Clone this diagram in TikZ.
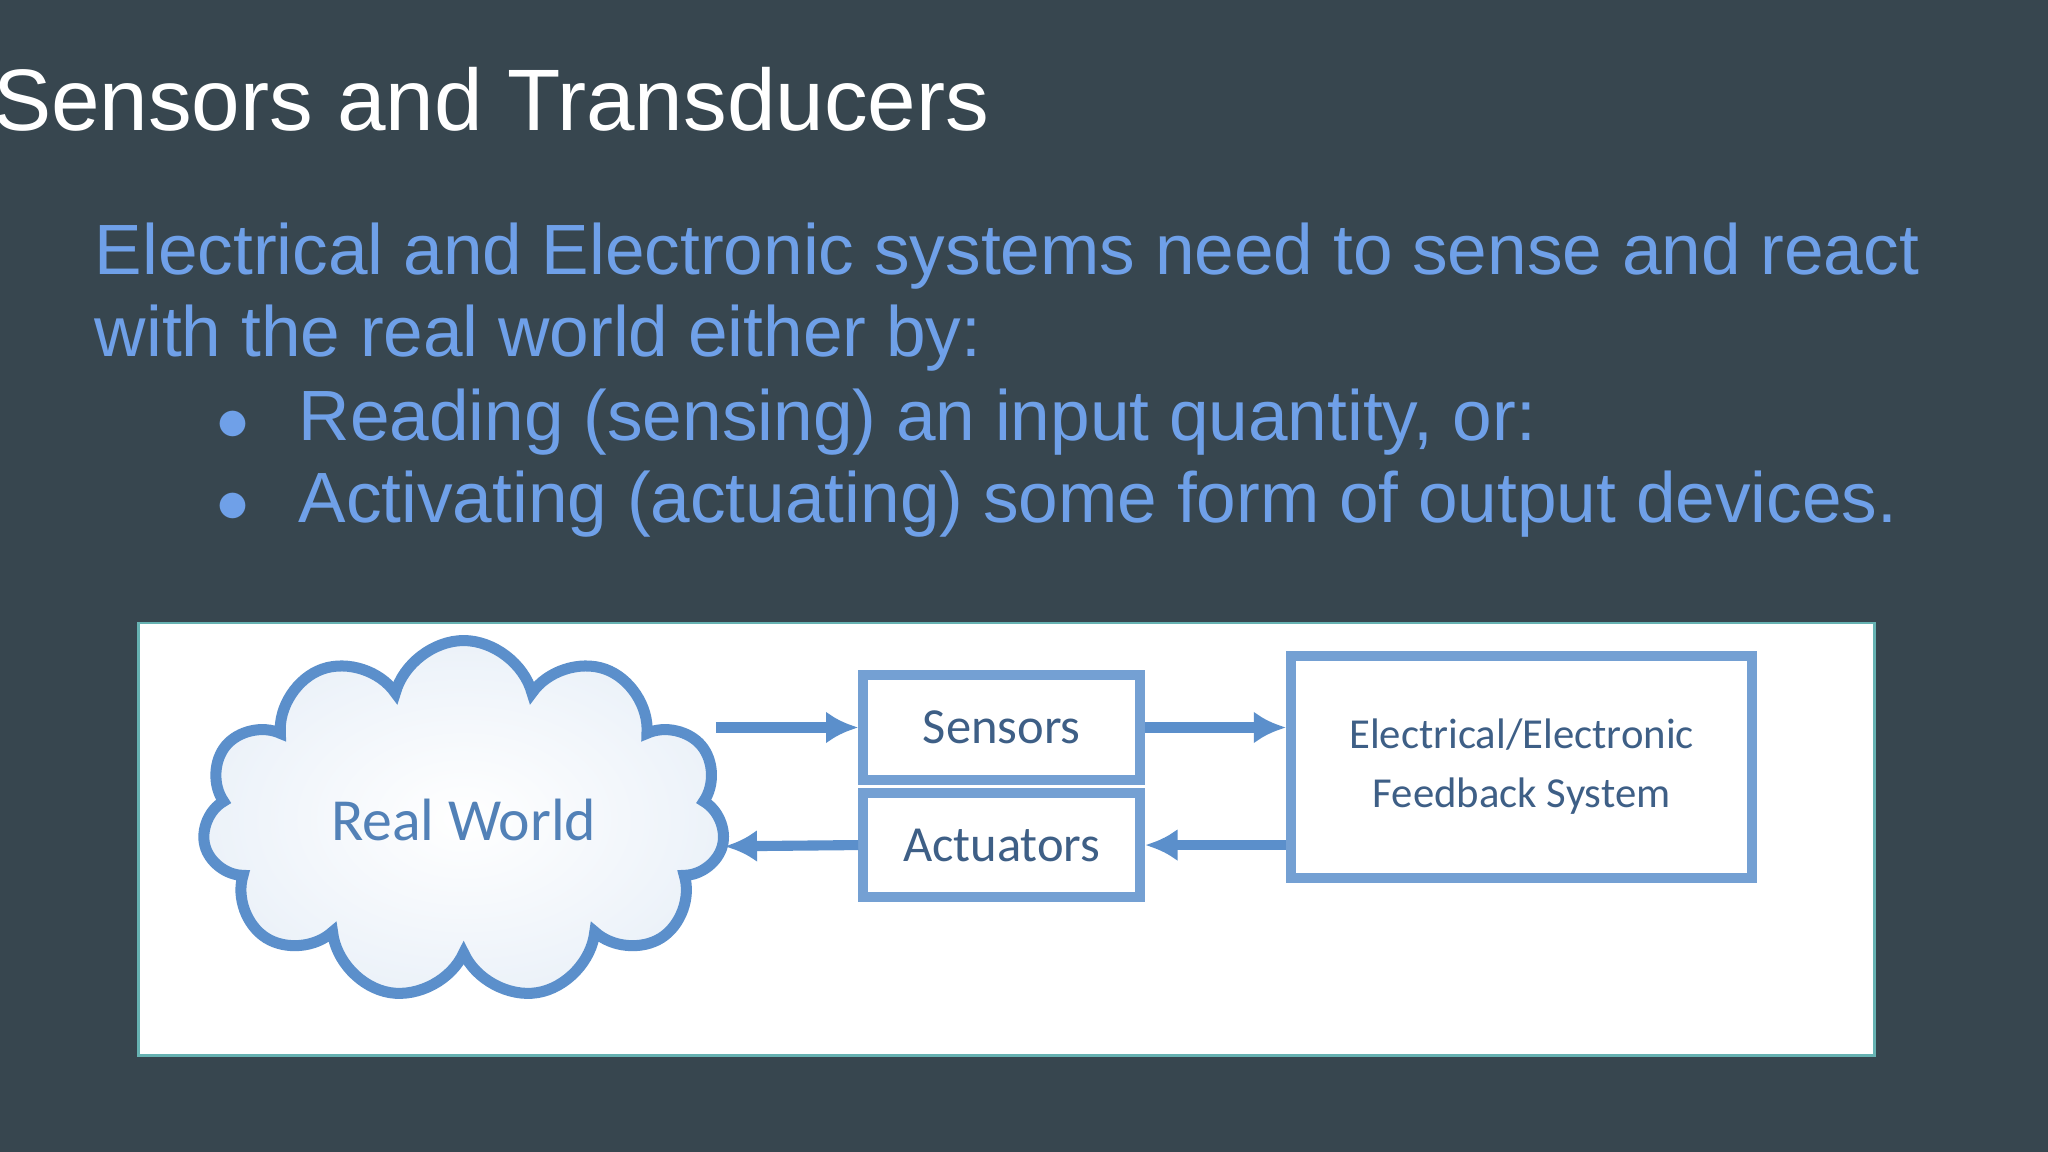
\documentclass[tikz,border=0pt]{standalone}
\usepackage{fontspec}
\setmainfont{Liberation Sans}
\newfontfamily\diag{Carlito}
\usetikzlibrary{shapes.symbols,arrows.meta}
\definecolor{bg}{HTML}{37464F}
\definecolor{tb}{HTML}{6FA0E8}
\definecolor{lb}{HTML}{5B8FCB}
\definecolor{db}{HTML}{3E5F86}
\tikzset{
 box/.style={draw=lb!85, line width=2.2pt, fill=white, text=db, font=\diag},
 arr/.style={draw=lb, line width=2.2pt, -{Latex[length=7pt,width=7pt]}},
 body/.style={text=tb, anchor=base west, font=\fontsize{15.5}{18}\selectfont, inner sep=0}
}
\begin{document}
\begin{tikzpicture}[x=0.01cm,y=-0.01cm]
\fill[bg] (0,0) rectangle (1568,882);
\useasboundingbox (0,0) rectangle (1568,882);
\node[text=white, anchor=base west, inner sep=0, font=\fontsize{19}{22}\selectfont] (title) at (-6,100) {Sensors and Transducers};
\node[body] (l1) at (72,210) {Electrical and Electronic systems need to sense and react};
\node[body] (l2) at (72,273) {with the real world either by:};
\node[body] (b1) at (165,337) {$\bullet$};
\node[body] (t1) at (228,337) {Reading (sensing) an input quantity, or:};
\node[body] (b2) at (165,400) {$\bullet$};
\node[body] (t2) at (228,400) {Activating (actuating) some form of output devices.};
\draw[draw=teal!60, fill=white, line width=0.6pt] (106,477) rectangle (1435,808);
\node[cloud, cloud puffs=11, aspect=1.5, draw=lb, line width=2.4pt, inner color=white, outer color=lb!12,
 minimum width=400\pgflinewidth*0+4.0cm, minimum height=2.75cm, text=lb!90!black, font=\diag\fontsize{13}{15}\selectfont] (rw) at (355,628) {Real World};
\node[box, minimum width=2.12cm, minimum height=0.8cm, font=\diag\fontsize{11}{13}\selectfont] (sen) at (767,557) {Sensors};
\node[box, minimum width=2.12cm, minimum height=0.8cm, font=\diag\fontsize{11}{13}\selectfont] (act) at (767,647) {Actuators};
\node[box, minimum width=3.53cm, minimum height=1.7cm, align=center, font=\diag\fontsize{9.3}{13}\selectfont] (fb) at (1165,587) {Electrical/Electronic\\Feedback System};
\coordinate (c1) at (548,557);
\coordinate (c2) at (555,648);
\draw[arr] (c1) -- (sen.west);
\draw[arr] (sen.east) -- (sen.east -| fb.west);
\draw[arr] (act.east -| fb.west) -- (act.east);
\draw[arr] (act.west) -- (c2);
\end{tikzpicture}
\end{document}
